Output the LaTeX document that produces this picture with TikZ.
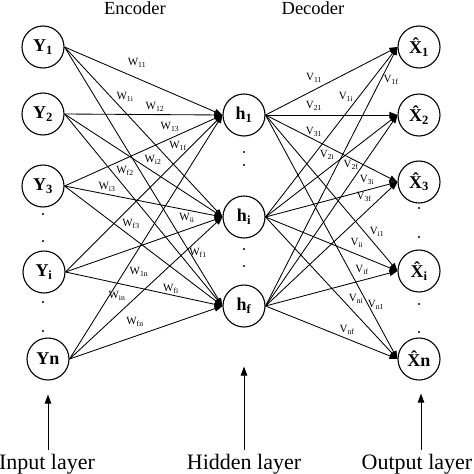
\documentclass[tikz,border=0pt]{standalone}
\usepackage{fontspec}
\setmainfont{Liberation Serif}
\usetikzlibrary{arrows.meta}

\tikzset{
  neuron/.style={draw,circle,line width=1.1pt,minimum size=42pt,inner sep=0pt,
    font=\fontsize{18}{18}\selectfont\bfseries},
  wire/.style={line width=.85pt,-{Triangle[length=8pt,width=6pt]}},
  upwire/.style={line width=.85pt,-{Triangle[length=9pt,width=6.5pt]}},
  wlab/.style={font=\fontsize{11}{11}\selectfont,inner sep=.5pt},
  layerlab/.style={font=\fontsize{22}{22}\selectfont,anchor=base},
  partlab/.style={font=\fontsize{18.5}{18.5}\selectfont,anchor=base},
}
\newcommand\sbs[1]{\textsubscript{#1}}

\begin{document}
\begin{tikzpicture}[x=1pt,y=-1pt]
  \useasboundingbox (0,0) rectangle (474,474);
  % layers
  \node[neuron] (y1) at (43,47)  {Y\sbs{1}};
  \node[neuron] (y2) at (43,114) {Y\sbs{2}};
  \node[neuron] (y3) at (43,186) {Y\sbs{3}};
  \node[neuron] (yi) at (44,272) {Y\sbs{i}};
  \node[neuron] (yn) at (48,359) {Yn};
  \node[neuron] (h1) at (244,115) {h\sbs{1}};
  \node[neuron] (hi) at (244,217) {h\sbs{i}};
  \node[neuron] (hf) at (244,306) {h\sbs{f}};
  \node[neuron] (x1) at (419,47)  {\^X\sbs{1}};
  \node[neuron] (x2) at (419,115) {\^X\sbs{2}};
  \node[neuron] (x3) at (419,182) {\^X\sbs{3}};
  \node[neuron] (xi) at (419,271) {\^X\sbs{i}};
  \node[neuron] (xn) at (419,359) {\^Xn};
  % connections
  \foreach \a in {y1,y2,y3,yi,yn}
    \foreach \b in {h1,hi,hf}
      \draw[wire] (\a.east) -- (\b.west);
  \foreach \a in {h1,hi,hf}
    \foreach \b in {x1,x2,x3,xi,xn}
      \draw[wire] (\a.east) -- (\b.west);
  % ellipsis dots
  \foreach \x/\y in {43/214,43/241,43/302,43/331,244/152,244/165,244/249,244/266,
                     419/208,419/237,419/304,419/332}
    \fill (\x,\y) circle (1.1pt);
  % weights
  \foreach \x/\y/\s [count=\k] in {137/63/11,125/97/1i,155/107/12,170/127/13,178/146/1f,
      153/160/i2,125/171/f2,107/187/i3,131/224/f3,187/218/ii,198/253/f1,
      139/272/1n,171/289/fi,117/296/in,135/322/fn}
    \node[wlab] (w\k) at (\x,\y) {W\sbs{\s}};
  \foreach \x/\y/\s [count=\k] in {314/78/11,346/97/1i,391/80/1f,314/106/21,314/132/31,
      327/155/2i,351/165/2f,367/180/3i,364/197/3f,377/232/i1,357/243/ii,
      362/270/if,356/299/ni,376/305/n1,347/330/nf}
    \node[wlab] (v\k) at (\x,\y) {V\sbs{\s}};
  % titles
  \node[partlab] (enc) at (135,14) {Encoder};
  \node[partlab] (dec) at (313,14) {Decoder};
  \node[layerlab] (inlab)  at (47,469)  {Input layer};
  \node[layerlab] (hidlab) at (244,469) {Hidden layer};
  \node[layerlab] (outlab) at (417,469) {Output layer};
  \draw[upwire] (yn.south |- inlab.north) -- ([yshift=-14pt]yn.south);
  \draw[upwire] (hidlab.north) -- ([yshift=-39pt]hf.south);
  \draw[upwire] ([xshift=2pt]xn.south |- outlab.north) -- ([xshift=2pt,yshift=-13pt]xn.south);
\end{tikzpicture}
\end{document}
